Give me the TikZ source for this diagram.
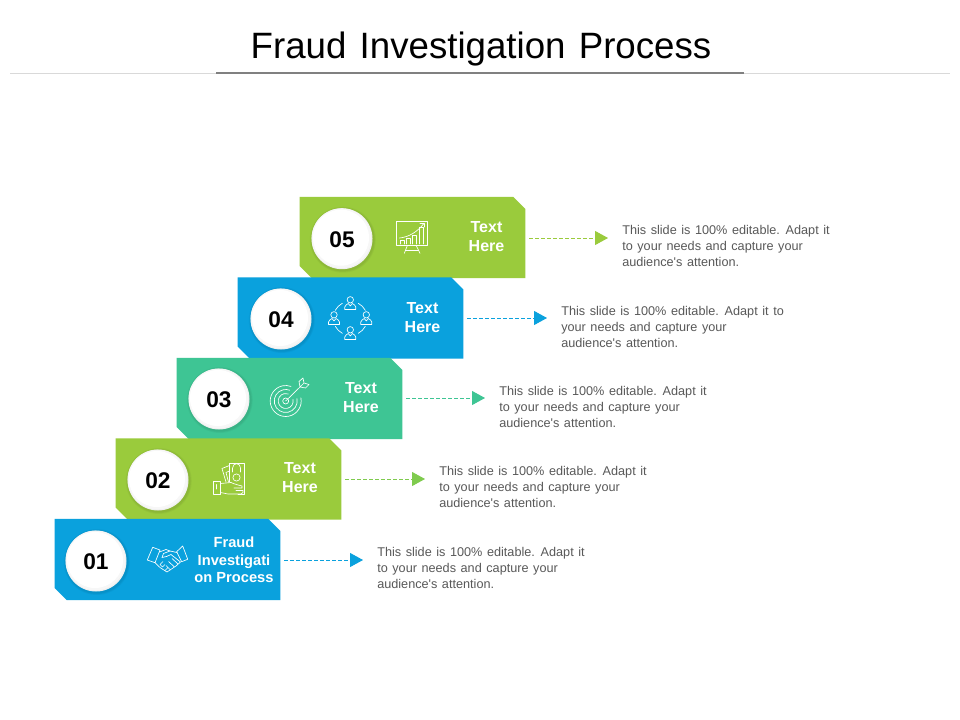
\documentclass[tikz,border=0pt]{standalone}
\usepackage{fontspec}
\usetikzlibrary{arrows.meta}
\setmainfont{Liberation Sans}
\newfontfamily\titlefont[WordSpace=1.2]{Liberation Sans}
\newfontfamily\descfont[WordSpace=1.3]{Liberation Sans}
\definecolor{cgreen}{HTML}{9ACB3C}
\definecolor{cblue}{HTML}{0AA1DD}
\definecolor{cteal}{HTML}{3EC594}
\definecolor{cgreenb}{HTML}{7FCB4E}
\definecolor{cdesc}{HTML}{595959}
\tikzset{
  banner/.style={rectangle,minimum width=168.75pt,minimum height=60.4pt,inner sep=0pt,draw=none},
  numcirc/.style={circle,minimum size=45.5pt,inner sep=0pt,font=\bfseries\fontsize{17}{20}\selectfont,text=black},
  softshade/.style={fill=black,opacity=.03},
  btext/.style={text=white,align=center,inner sep=0pt,font=\bfseries\fontsize{12}{14.3}\selectfont},
  btextsm/.style={text=white,align=center,inner sep=0pt,font=\bfseries\fontsize{11}{13.1}\selectfont},
  desc/.style={anchor=west,align=left,inner sep=0pt,text=cdesc,font=\descfont\fontsize{9.5}{12}\selectfont},
  conn/.style={draw=#1,dash pattern=on 3pt off 1.5pt,line width=.7pt,shorten <=3pt,shorten >=10.5pt,
    -{Triangle[length=9.75pt,width=10.5pt,fill=#1]}},
  iconl/.style={draw=white,line width=.5pt,line join=round,line cap=round},
}
\newcommand{\bannerfill}[2]{%
  \fill[#2] (#1.north west) -- ([xshift=-9pt]#1.north east) -- ([yshift=-9pt]#1.north east)
    -- (#1.south east) -- ([xshift=9pt]#1.south west) -- ([yshift=9pt]#1.south west) -- cycle;}
\newcommand{\numdisc}[4]{%
  \foreach \sr in {33,32.2,31.5}{\fill[softshade] (#2+.8,#3+1) circle[radius=\sr];}
  \fill[black!6] (#2,#3) circle[radius=30.5];
  \fill[black!3] (#2-.5,#3-.5) circle[radius=29.8];
  \fill[white] (#2-1,#3-1) circle[radius=28];
  \node[numcirc] (#1) at (#2,#3+.7) {#4};}
\begin{document}
\begin{tikzpicture}[x=.75pt,y=-.75pt]
\useasboundingbox (0,0) rectangle (960,720);
\fill[white] (0,0) rectangle (960,720);
% title
\node[inner sep=0pt,font=\titlefont\fontsize{27.5}{30}\selectfont,text=black] (title) at (481,49) {Fraud Investigation Process};
\coordinate (ruleA) at (10,73);
\coordinate (ruleB) at (950,73);
\coordinate (ruleC) at (216,73);
\coordinate (ruleD) at (744,73);
\draw[draw=black!15,line width=.6pt] (ruleA) -- (ruleB);
\draw[draw=black!50,line width=.9pt] (ruleC) -- (ruleD);
% banners
\node[banner] (b5) at (412.5,237.5) {};
\node[banner] (b4) at (350.5,318) {};
\node[banner] (b3) at (289.5,398.5) {};
\node[banner] (b2) at (228.5,479) {};
\node[banner] (b1) at (167.5,559.5) {};
\bannerfill{b5}{cgreen}
\bannerfill{b4}{cblue}
\bannerfill{b3}{cteal}
\bannerfill{b2}{cgreen}
\bannerfill{b1}{cblue}
% number circles
\numdisc{n5}{342}{238.7}{05}
\numdisc{n4}{281}{319}{04}
\numdisc{n3}{219}{399}{03}
\numdisc{n2}{158}{480}{02}
\numdisc{n1}{96}{561}{01}
% banner texts
\node[btext] (t5) at (486.5,237) {Text\\Here};
\node[btext] (t4) at (422.5,318) {Text\\Here};
\node[btext] (t3) at (361,398) {Text\\Here};
\node[btext] (t2) at (300,478) {Text\\Here};
\node[btextsm] (t1) at (234,560) {Fraud\\Investigati\\on Process};
% descriptions
\node[desc] (d5) at (622,245.5) {This slide is 100\% editable. Adapt it\\to your needs and capture your\\audience's attention.};
\node[desc] (d4) at (561,326.5) {This slide is 100\% editable. Adapt it to\\your needs and capture your\\audience's attention.};
\node[desc] (d3) at (499,406.5) {This slide is 100\% editable. Adapt it\\to your needs and capture your\\audience's attention.};
\node[desc] (d2) at (439,487) {This slide is 100\% editable. Adapt it\\to your needs and capture your\\audience's attention.};
\node[desc] (d1) at (377,567.5) {This slide is 100\% editable. Adapt it\\to your needs and capture your\\audience's attention.};
% connectors
\draw[conn=cgreen] ([yshift=-.375pt]b5.east) -- ([yshift=-.375pt]b5.east -| d5.west);
\draw[conn=cblue] (b4.east) -- (b4.east -| d4.west);
\draw[conn=cteal] ([yshift=.375pt]b3.east) -- ([yshift=.375pt]b3.east -| d3.west);
\draw[conn=cgreenb] (b2.east) -- (b2.east -| d2.west);
\draw[conn=cblue] ([yshift=-.375pt]b1.east) -- ([yshift=-.375pt]b1.east -| d1.west);
% icon 05: chart on easel
\draw[iconl] (396.7,221) rectangle (427.3,245.7);
\draw[iconl] (407.3,245.7) -- (404.3,253.3) (416.3,245.7) -- (420,253.3) (405.6,250.5) -- (418.6,250.5);
\foreach \a/\b/\c in {400.5/404.5/240.5,406/410/238.5,412/416/235.5,419.5/423.5/227}
  \draw[iconl] (\a,244) -- (\a,\c) -- (\b,\c) -- (\b,244);
\draw[iconl] (399.5,238) .. controls (409,237) and (417,232) .. (423.5,224);
\draw[iconl] (420,223.5) -- (424,223.5) -- (424,227);
% icon 04: people ring
\foreach \px/\py in {350.3/303,334/318,366.3/318,350.3/333}{
  \begin{scope}[shift={(\px,\py)}]
    \draw[iconl] (0,-3.2) circle[radius=3.2];
    \draw[iconl] (-5.5,6.5) -- (-5.5,4) .. controls (-5.5,2) and (-3,1.5) .. (-2,0.5) -- (0,3) -- (2,0.5) .. controls (3,1.5) and (5.5,2) .. (5.5,4) -- (5.5,6.5) -- cycle;
  \end{scope}}
\foreach \sa in {28,118,208,298}
  \draw[iconl] (350.3,318.3) ++(\sa:17) arc[start angle=\sa,delta angle=34,radius=17];
% icon 03: target and dart
\foreach \r in {15.5,11.5,7.5}
  \draw[iconl] (285.7,401) ++(-12:\r) arc[start angle=-12,end angle=290,radius=\r];
\draw[iconl] (285.7,401) circle[radius=3];
\draw[iconl] (285.7,401) -- (300,387);
\draw[iconl] (300,387) -- (299,381.5) -- (303,378) -- (304,383) -- (309,384.5) -- (305.5,388) -- cycle (300,387) -- (304,383);
% icon 02: banknotes and hand
\draw[iconl] (229.5,482) -- (229.5,463.5) -- (244,463.5) -- (244,494) -- (238,494);
\draw[iconl] (229.5,465.5) -- (222,468.5) -- (226,482);
\draw[iconl] (229.5,471) -- (226,472.5) -- (228.5,482);
\draw[iconl] (236.5,477.5) circle[radius=3.6];
\draw[iconl] (232.5,468) -- (232.5,472) (240.5,468) -- (240.5,472) (232.8,467.5) arc[start angle=180,end angle=360,radius=3.8];
\draw[iconl] (213.5,481.5) rectangle (220.5,494);
\draw[iconl] (216,484.5) -- (216,489);
\draw[iconl] (220.5,483.5) -- (231,482.5) .. controls (234,484) and (238,485) .. (242,486) -- (242,488) -- (234,488);
\draw[iconl] (220.5,492.5) -- (228,494) -- (241,494) -- (243,492.5) -- (243,490.5) -- (236,490.5);
% icon 01: handshake
\draw[iconl] (147.3,560) -- (152.7,547.3) -- (160,550) -- (155,562.7) -- cycle;
\draw[iconl] (176.7,551.7) -- (182.7,546) -- (187.7,559.3) -- (181.7,561.7) -- cycle;
\draw[iconl] (159.5,552) -- (166,549.5) -- (170,551) -- (177,552.5);
\draw[iconl] (170,551) -- (163.5,553.5) -- (162,557.5) -- (166.5,556.5) -- (171,554.5) -- (180.5,562);
\draw[iconl] (180.5,562) -- (176,566) -- (167,572) -- (160,567.5) -- (155,562.7);
\draw[iconl] (163,561.5) -- (160,564.5) -- (162.5,567) (162.5,567) -- (165,564.5);
\draw[iconl] (165,570.5) -- (168,567.5) (170.5,570) -- (166,565.5) (174.5,567) -- (168.5,561.5) (178,564) -- (172,558.5);
\end{tikzpicture}
\end{document}
